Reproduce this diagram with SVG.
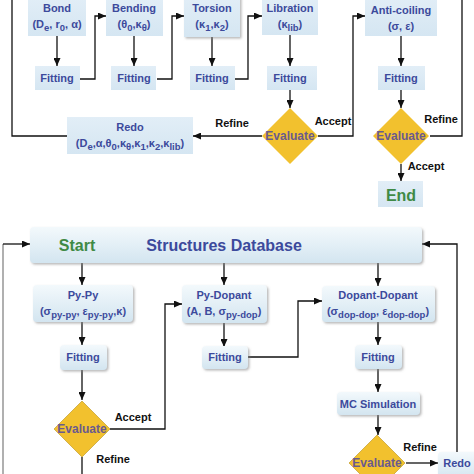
<svg xmlns="http://www.w3.org/2000/svg" width="474" height="474" viewBox="0 0 474 474">
<style>
.t{font-family:"Liberation Sans",Arial,sans-serif;font-weight:bold;font-size:11px;fill:#3c4a9c;text-anchor:middle}
.s{font-size:9.5px}
.ev{font-family:"Liberation Sans",Arial,sans-serif;font-weight:bold;font-size:12px;fill:#6a5a8e;text-anchor:middle}
.lb{font-family:"Liberation Sans",Arial,sans-serif;font-weight:bold;font-size:11px;fill:#111;text-anchor:middle}
.g{font-family:"Liberation Sans",Arial,sans-serif;font-weight:bold;font-size:16px;fill:#3f8a45;text-anchor:middle}
.big{font-family:"Liberation Sans",Arial,sans-serif;font-weight:bold;font-size:16px;fill:#3c4a9c;text-anchor:middle}
.flat{fill:url(#fg)}
.box{fill:url(#bg);filter:url(#sh)}
.dia{fill:#f2c12e}
.c{fill:none;stroke:#111;stroke-width:1.3}
.ca{fill:none;stroke:#111;stroke-width:1.3;marker-end:url(#ah)}
</style>
<defs>
<linearGradient id="fg" x1="0" y1="0" x2="0" y2="1"><stop offset="0" stop-color="#e2eef7"/><stop offset="1" stop-color="#d5e6f2"/></linearGradient>
<linearGradient id="bg" x1="0" y1="0" x2="0" y2="1"><stop offset="0" stop-color="#f3f9fc"/><stop offset="1" stop-color="#d3e5f0"/></linearGradient>
<filter id="sh" x="-10%" y="-10%" width="125%" height="140%"><feDropShadow dx="1.5" dy="1.5" stdDeviation="1" flood-color="#888" flood-opacity="0.6"/></filter>
<marker id="ah" markerWidth="8" markerHeight="7" refX="8" refY="3.5" orient="auto" markerUnits="userSpaceOnUse"><path d="M0,0 L8,3.5 L0,7 z" fill="#111"/></marker>
</defs>

<g id="connectors">
<path class="ca" d="M57,36 V66"/>
<path class="ca" d="M80,79 H95 V16 H106"/>
<path class="ca" d="M134,36 V66"/>
<path class="ca" d="M157,79 H172 V16 H184"/>
<path class="ca" d="M212,37 V66"/>
<path class="ca" d="M235,79 H248 V16 H262"/>
<path class="ca" d="M290,35 V66"/>
<path class="ca" d="M290,90 V108"/>
<path class="ca" d="M318,136 H353 V16 H365"/>
<path class="ca" d="M262,136 H193"/>
<path class="c" d="M67,136 H12 V-2"/>
<path class="ca" d="M401,36 V66"/>
<path class="ca" d="M401,90 V108"/>
<path class="c" d="M430,136 H462 V-2"/>
<path class="ca" d="M401,164 V181"/>

<path d="M3,476 V244" fill="none" stroke="#b0b0b0" stroke-width="2"/>
<path class="ca" d="M3,244 H30"/>
<path class="ca" d="M82,263 V285"/>
<path class="ca" d="M82,322 V345"/>
<path class="ca" d="M82,370 V400"/>
<path class="ca" d="M110,429 H165 V304 H182"/>
<path class="c" d="M82,457 V476"/>
<path class="ca" d="M224,263 V285"/>
<path class="ca" d="M224,323 V347"/>
<path class="ca" d="M248,357 H298 V301 H322"/>
<path class="ca" d="M378,263 V286"/>
<path class="ca" d="M378,322 V345"/>
<path class="ca" d="M378,369 V392"/>
<path class="ca" d="M378,415 V435"/>
<path class="ca" d="M406,463 H438"/>
<path class="ca" d="M457,452 V244 H422"/>
</g>

<g id="bond"><rect class="flat" x="28" y="-4" width="58" height="40"/>
<text class="t" x="57" y="12">Bond</text>
<text class="t" x="57" y="28">(D<tspan class="s" dy="3">e</tspan><tspan dy="-3">, r</tspan><tspan class="s" dy="3">0</tspan><tspan dy="-3">, α)</tspan></text></g>
<g id="fit1"><rect class="flat" x="35" y="66" width="45" height="24"/><text class="t" x="57" y="82">Fitting</text></g>

<g id="bending"><rect class="flat" x="106" y="-4" width="57" height="40"/>
<text class="t" x="134" y="12">Bending</text>
<text class="t" x="134" y="28">(θ<tspan class="s" dy="3">0</tspan><tspan dy="-3">,κ</tspan><tspan class="s" dy="3">θ</tspan><tspan dy="-3">)</tspan></text></g>
<g id="fit2"><rect class="flat" x="111" y="66" width="45" height="24"/><text class="t" x="134" y="82">Fitting</text></g>

<g id="torsion"><rect class="flat" x="184" y="-4" width="56" height="41" style="filter:url(#sh)"/>
<text class="t" x="212" y="12">Torsion</text>
<text class="t" x="212" y="28">(κ<tspan class="s" dy="3">1</tspan><tspan dy="-3">,κ</tspan><tspan class="s" dy="3">2</tspan><tspan dy="-3">)</tspan></text></g>
<g id="fit3"><rect class="flat" x="190" y="66" width="45" height="24"/><text class="t" x="212" y="82">Fitting</text></g>

<g id="libration"><rect class="flat" x="262" y="-4" width="56" height="39"/>
<text class="t" x="290" y="12">Libration</text>
<text class="t" x="290" y="28">(κ<tspan class="s" dy="3">lib</tspan><tspan dy="-3">)</tspan></text></g>
<g id="fit4"><rect class="flat" x="267" y="66" width="50" height="24"/><text class="t" x="290" y="82">Fitting</text></g>

<g id="eval1"><polygon class="dia" points="290,108 318,136 290,164 262,136"/><text class="ev" x="290" y="140">Evaluate</text></g>
<text class="lb" x="333" y="125">Accept</text>
<text class="lb" x="232" y="127">Refine</text>

<g id="redo1"><rect class="flat" x="67" y="117" width="126" height="37"/>
<text class="t" x="130" y="131">Redo</text>
<text class="t" x="130" y="147">(D<tspan class="s" dy="3">e</tspan><tspan dy="-3">,α,θ</tspan><tspan class="s" dy="3">0</tspan><tspan dy="-3">,κ</tspan><tspan class="s" dy="3">θ</tspan><tspan dy="-3">,κ</tspan><tspan class="s" dy="3">1</tspan><tspan dy="-3">,κ</tspan><tspan class="s" dy="3">2</tspan><tspan dy="-3">,κ</tspan><tspan class="s" dy="3">lib</tspan><tspan dy="-3">)</tspan></text></g>

<g id="anticoiling"><rect class="flat" x="365" y="-4" width="72" height="40"/>
<text class="t" x="401" y="14">Anti-coiling</text>
<text class="t" x="401" y="30">(σ, ε)</text></g>
<g id="fit5"><rect class="flat" x="378" y="66" width="47" height="24"/><text class="t" x="401" y="82">Fitting</text></g>

<g id="eval2"><polygon class="dia" points="401,108 429,136 401,164 373,136"/><text class="ev" x="401" y="140">Evaluate</text></g>
<text class="lb" x="441" y="123">Refine</text>
<text class="lb" x="426" y="170">Accept</text>

<g id="end"><rect class="flat" x="378" y="181" width="45" height="26"/><text class="g" x="401" y="201">End</text></g>

<g id="db"><rect class="box" x="30" y="227" width="392" height="36" rx="4"/>
<text class="g" x="77" y="251">Start</text>
<text class="big" x="224" y="251">Structures Database</text></g>

<g id="pypy"><rect class="box" x="33" y="285" width="100" height="37" rx="4"/>
<text class="t" x="83" y="299">Py-Py</text>
<text class="t" x="83" y="315">(σ<tspan class="s" dy="3">py-py</tspan><tspan dy="-3">, ε</tspan><tspan class="s" dy="3">py-py</tspan><tspan dy="-3">,κ)</tspan></text></g>
<g id="fit6"><rect class="box" x="60" y="345" width="47" height="25" rx="4"/><text class="t" x="83" y="361">Fitting</text></g>
<g id="eval3"><polygon class="dia" points="82,401 110,429 82,457 54,429" stroke="#b8901c" stroke-width="0.6"/><text class="ev" x="82" y="433">Evaluate</text></g>
<text class="lb" x="133" y="421">Accept</text>
<text class="lb" x="113" y="463">Refine</text>

<g id="pydopant"><rect class="box" x="182" y="285" width="85" height="38" rx="4"/>
<text class="t" x="224" y="299">Py-Dopant</text>
<text class="t" x="224" y="315">(A, B, σ<tspan class="s" dy="3">py-dop</tspan><tspan dy="-3">)</tspan></text></g>
<g id="fit7"><rect class="box" x="202" y="346" width="46" height="23" rx="4"/><text class="t" x="225" y="361">Fitting</text></g>

<g id="dopdop"><rect class="box" x="322" y="286" width="113" height="36" rx="4"/>
<text class="t" x="378" y="299">Dopant-Dopant</text>
<text class="t" x="378" y="315">(σ<tspan class="s" dy="3">dop-dop</tspan><tspan dy="-3">, ε</tspan><tspan class="s" dy="3">dop-dop</tspan><tspan dy="-3">)</tspan></text></g>
<g id="fit8"><rect class="box" x="355" y="345" width="47" height="24" rx="4"/><text class="t" x="378" y="361">Fitting</text></g>
<g id="mc"><rect class="box" x="337" y="392" width="83" height="23" rx="4"/><text class="t" x="378" y="408">MC Simulation</text></g>
<g id="eval4"><polygon class="dia" points="377,435 405,463 377,491 349,463" stroke="#b8901c" stroke-width="0.6"/><text class="ev" x="377" y="467">Evaluate</text></g>
<text class="lb" x="420" y="451">Refine</text>
<g id="redo2"><rect class="box" x="438" y="452" width="40" height="28" rx="3"/><text class="t" x="457" y="467">Redo</text></g>
</svg>
